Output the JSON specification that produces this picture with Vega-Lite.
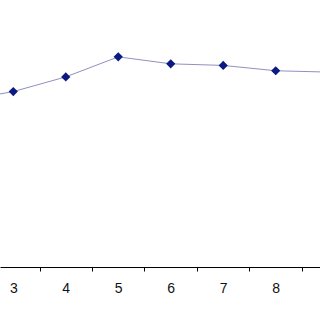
{
  "$schema": "https://vega.github.io/schema/vega-lite/v6.json",
  "width": 320,
  "height": 267,
  "padding": {"left": 0, "top": 0, "right": 0, "bottom": 53},
  "autosize": {"type": "none"},
  "background": "white",
  "config": {"view": {"stroke": null}},
  "data": {"values": [
    {"x": 2, "v": 62.2},
    {"x": 3, "v": 65.7},
    {"x": 4, "v": 71.2},
    {"x": 5, "v": 78.7},
    {"x": 6, "v": 76.1},
    {"x": 7, "v": 75.5},
    {"x": 8, "v": 73.5},
    {"x": 9, "v": 73.0}
  ]},
  "encoding": {
    "x": {
      "field": "x", "type": "quantitative",
      "scale": {"domain": [2.747, 8.844], "nice": false, "zero": false},
      "axis": {
        "title": null,
        "grid": false,
        "values": [3, 3.5, 4, 4.5, 5, 5.5, 6, 6.5, 7, 7.5, 8, 8.5],
        "labelExpr": "datum.value % 1 === 0 ? ('' + datum.value) : ''",
        "tickOpacity": {"condition": {"test": "datum.value % 1 === 0", "value": 0}, "value": 1},
        "domainColor": "#000000",
        "domainWidth": 1,
        "tickColor": "#000000",
        "tickWidth": 1,
        "tickSize": 4,
        "labelFont": "Liberation Sans",
        "labelFontSize": 14,
        "labelColor": "#111111",
        "labelPadding": 10,
        "labelFlush": false,
        "labelOverlap": false
      }
    },
    "y": {
      "field": "v", "type": "quantitative",
      "scale": {"domain": [0, 100], "nice": false},
      "axis": null
    }
  },
  "layer": [
    {"mark": {"type": "line", "color": "#9090c0", "strokeWidth": 1, "clip": true}},
    {"mark": {"type": "point", "shape": "diamond", "filled": true, "color": "#0a1a80", "opacity": 1, "size": 85, "clip": true}}
  ]
}
